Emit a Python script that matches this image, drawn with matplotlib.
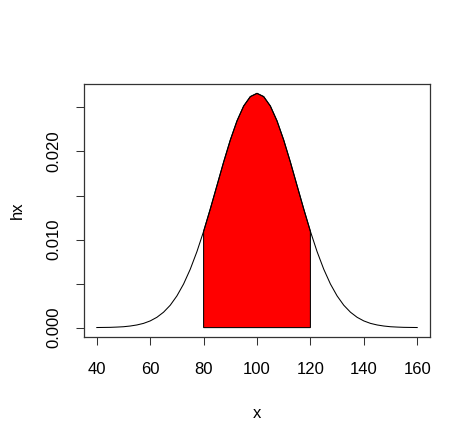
import numpy as np
import matplotlib.pyplot as plt
from matplotlib.ticker import FixedLocator, FuncFormatter

# values
x = [40, 42.5, 45, 47.5, 50, 52.5, 55, 57.5, 60, 62.5, 65, 67.5, 70, 72.5, 75, 77.5,
     80, 82.5, 85, 87.5, 90, 92.5, 95, 97.5, 100, 102.5, 105, 107.5, 110, 112.5, 115,
     117.5, 120, 122.5, 125, 127.5, 130, 132.5, 135, 137.5, 140, 142.5, 145, 147.5,
     150, 152.5, 155, 157.5, 160]
hx = [0.00001, 0.00002, 0.00003, 0.00006, 0.00010, 0.00018, 0.00030, 0.00048, 0.00076,
      0.00117, 0.00175, 0.00254, 0.00360, 0.00495, 0.00663, 0.00863, 0.01093, 0.01347,
      0.01613, 0.01880, 0.02130, 0.02347, 0.02516, 0.02623, 0.02660, 0.02623, 0.02516,
      0.02347, 0.02130, 0.01880, 0.01613, 0.01347, 0.01093, 0.00863, 0.00663, 0.00495,
      0.00360, 0.00254, 0.00175, 0.00117, 0.00076, 0.00048, 0.00030, 0.00018, 0.00010,
      0.00006, 0.00003, 0.00002, 0.00001]
lb, ub = 80, 120

plt.rcParams['font.family'] = ['Liberation Sans', 'DejaVu Sans']

fig = plt.figure(figsize=(4.74, 4.42), dpi=100)
ax = fig.add_axes([0.1772, 0.2376, 0.73, 0.5724])

ax.plot(x, hx, color='black', lw=0.75)

# shaded region between lb and ub
px = [lb] + [a for a in x if lb <= a <= ub] + [ub]
py = [0] + [b for a, b in zip(x, hx) if lb <= a <= ub] + [0]
ax.fill(px, py, facecolor='red', edgecolor='black', lw=0.75)

ymax = max(hx)
ax.set_xlim(40 - 0.04 * 120, 160 + 0.04 * 120)
ax.set_ylim(-0.04 * ymax, ymax * 1.04)

ax.set_xticks([40, 60, 80, 100, 120, 140, 160])
ax.yaxis.set_major_locator(FixedLocator([0, 0.005, 0.010, 0.015, 0.020, 0.025]))
ax.yaxis.set_major_formatter(FuncFormatter(
    lambda v, p: '%.3f' % v if round(v * 1000) % 10 == 0 else ''))
for lab in ax.get_yticklabels():
    lab.set_rotation(90)
    lab.set_va('center')

ax.tick_params(labelsize=12, length=6, width=0.75, color='#333333', pad=12)
ax.tick_params(axis='y', pad=10)
for s in ax.spines.values():
    s.set_linewidth(0.9)
    s.set_color('#333333')

ax.set_xlabel('x', fontsize=12, labelpad=21)
ax.set_ylabel('hx', fontsize=12, labelpad=16)

fig.savefig('out.png', dpi=100)
